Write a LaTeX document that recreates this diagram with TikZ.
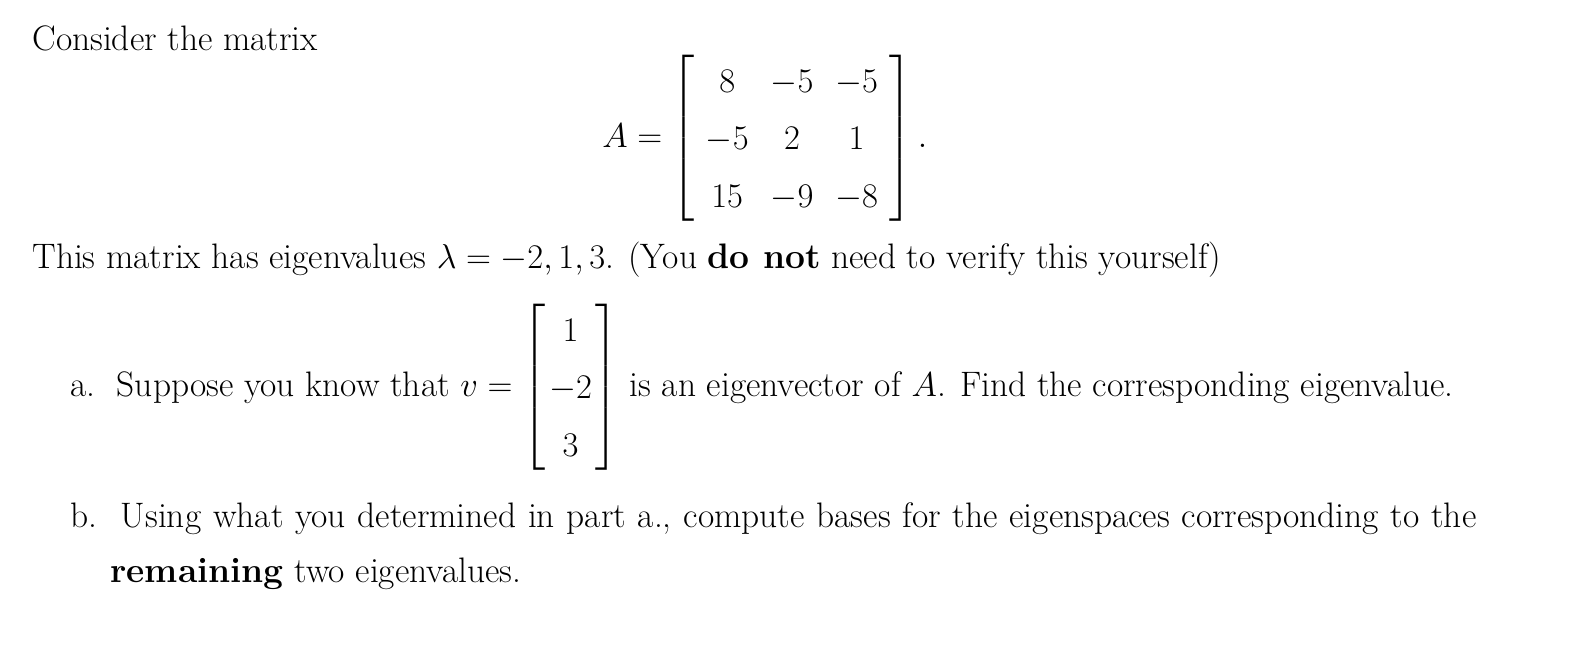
\documentclass[tikz,border=0pt]{standalone}
\usepackage{amsmath}
\begin{document}
\begin{tikzpicture}[x=0.5pt,y=-0.5pt,
  txt/.style={anchor=base west,inner sep=0pt,font=\fontsize{17.7}{21}\selectfont}]
\useasboundingbox (0,0) rectangle (1588,650);
\node[txt] (c) at (32,50) {Consider the matrix};
\node[txt] (m) at (602,147) {$A=\left[\renewcommand{\arraystretch}{1.38}\setlength{\arraycolsep}{5.5pt}\begin{array}{ccc}8&-5&-5\\-5&2&1\\15&-9&-8\end{array}\right].$};
\node[txt] (e) at (32,268) {This matrix has eigenvalues $\lambda=-2,1,3$. (You \textbf{do not} need to verify this yourself)};
\node[txt] (va) at (70,396) {a.\ \ Suppose you know that $v=\left[\renewcommand{\arraystretch}{1.38}\setlength{\arraycolsep}{2pt}\begin{array}{c}1\\-2\\3\end{array}\right]$ is an eigenvector of $A$. Find the corresponding eigenvalue.};
\node[txt] (b1) at (70,527) {\makebox[703pt][s]{b.\ \ Using what you determined in part a., compute bases for the eigenspaces corresponding to the}};
\node[txt] (b2) at (110,582) {\textbf{remaining} two eigenvalues.};
\end{tikzpicture}
\end{document}
